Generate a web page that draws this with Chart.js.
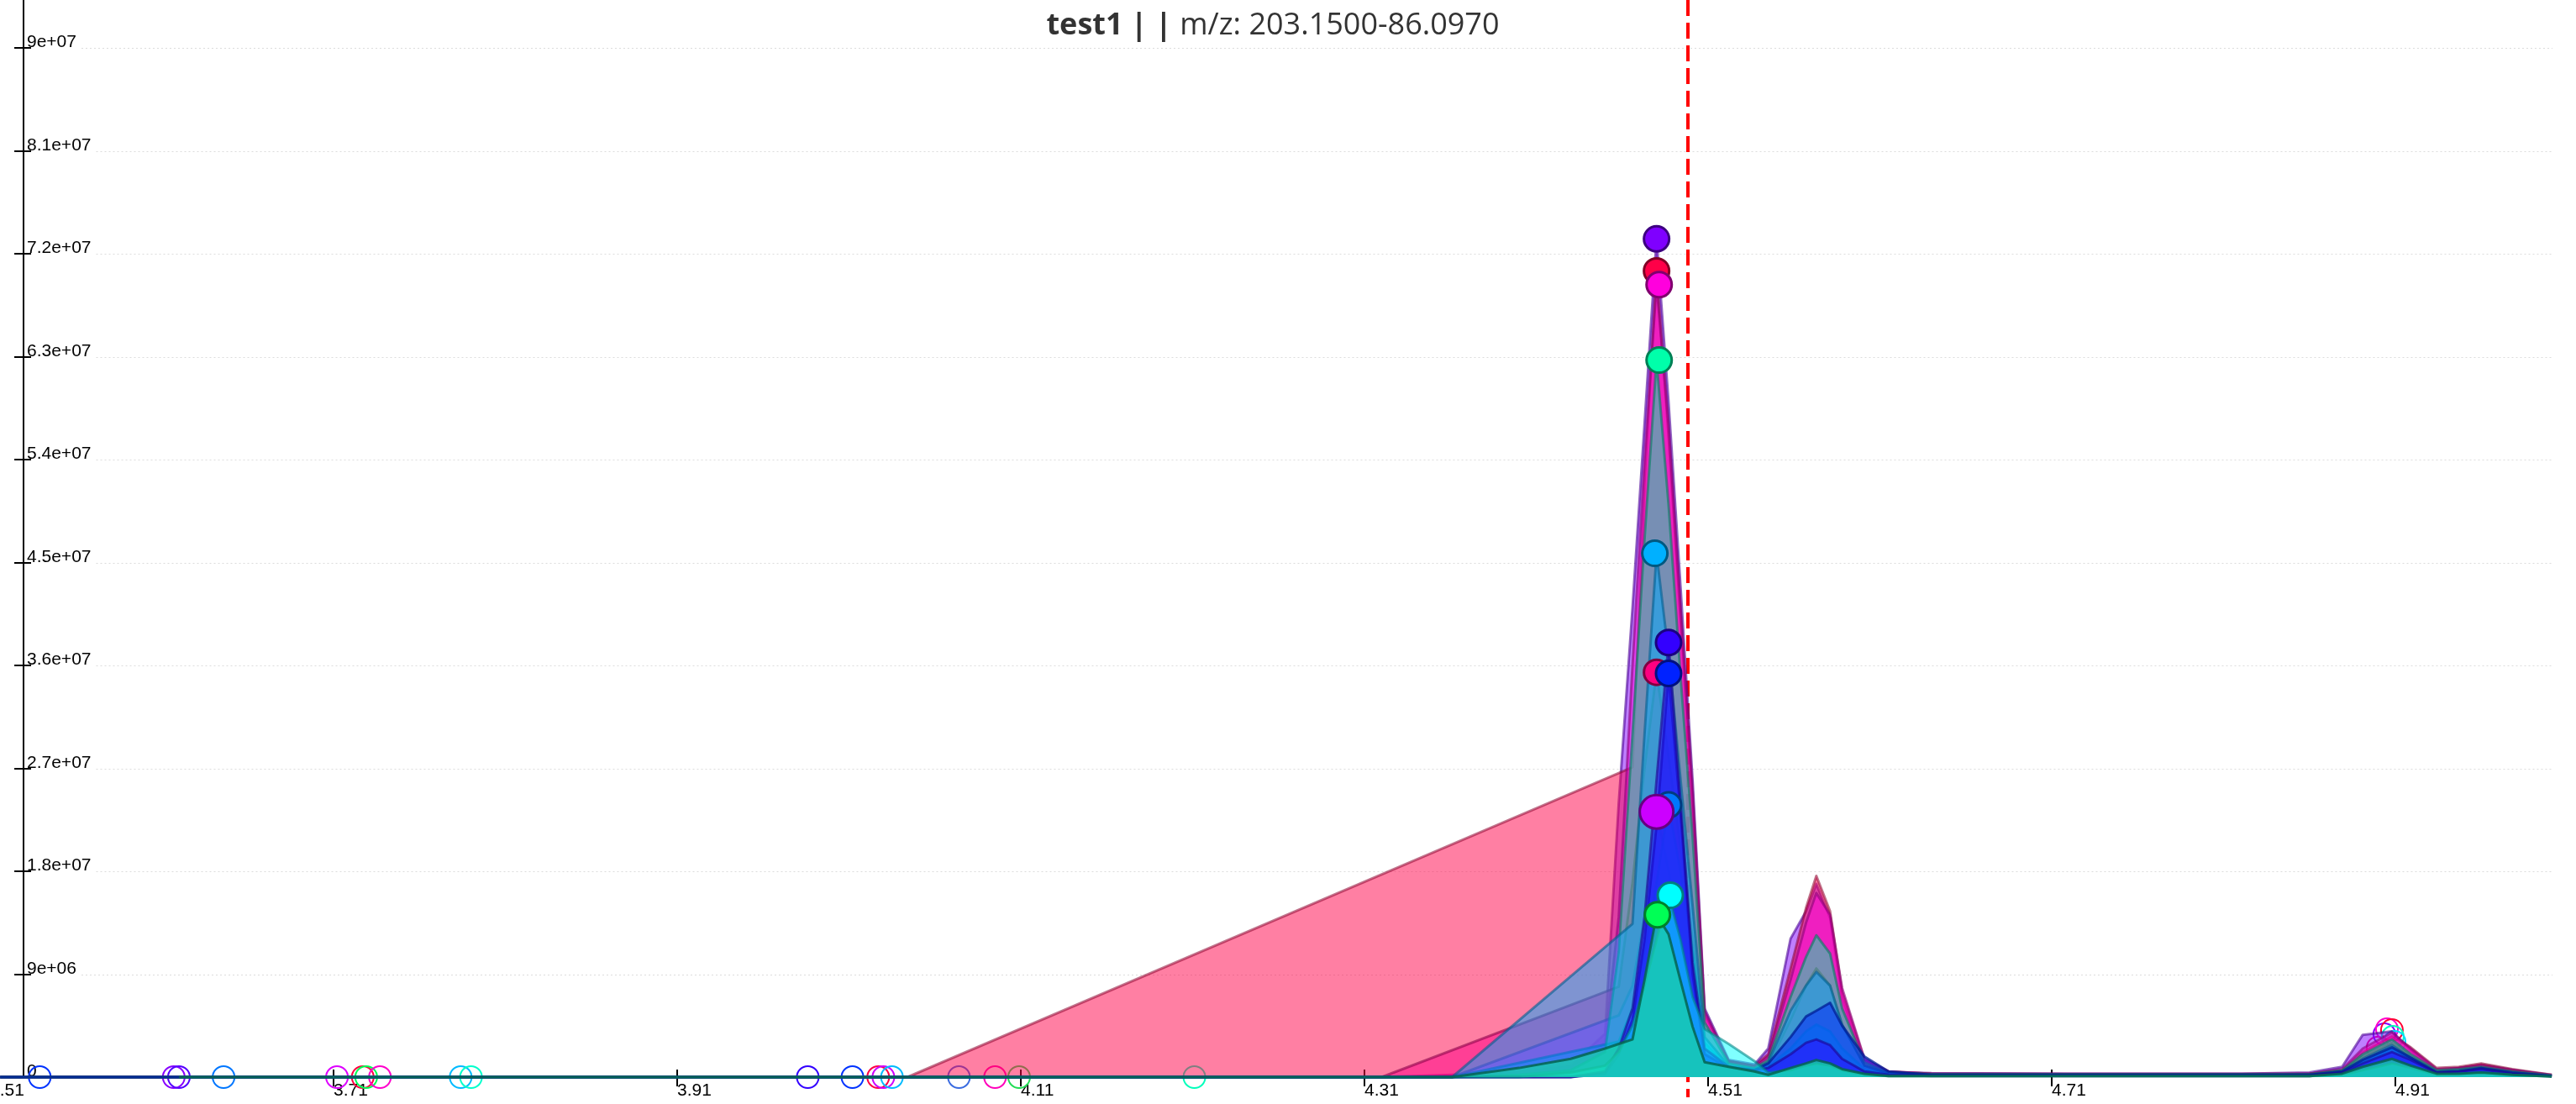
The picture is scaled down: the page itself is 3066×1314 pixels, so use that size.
<!DOCTYPE html>
<html>
<head>
<meta charset="utf-8">
<title>test1 | | m/z: 203.1500-86.0970</title>
<script src="https://cdn.jsdelivr.net/npm/chart.js@4.4.1/dist/chart.umd.min.js"></script>
<style>
  html, body { margin: 0; padding: 0; background: #fff; overflow: hidden; }
  canvas { display: block; }
</style>
</head>
<body>
<canvas id="eic" width="3066" height="1314"></canvas>
<script>
// EIC overlay - one filled trace per sample, apex markers on top

// retention times shared by every trace (min)
const rt = [3.516, 3.62, 3.75, 3.90, 4.00, 4.044, 4.15, 4.32, 4.361, 4.40,
            4.43, 4.45, 4.458, 4.466, 4.473, 4.480, 4.487, 4.494, 4.501, 4.508,
            4.522, 4.537, 4.545, 4.558, 4.567, 4.573, 4.581, 4.588, 4.601, 4.615,
            4.64, 4.72, 4.82, 4.86, 4.879, 4.891, 4.908, 4.919, 4.934, 4.947,
            4.960, 4.978, 5.001];

// intensities per sample (null = no scan recorded)
const purpleInt = [0, 0, 0, 0, 0, 0, 0, 0, 0.2e6, 0.5e6,
  1.0e6, 3.8e6, 24e6, 41e6, 57.1e6, 73.3e6, 59.0e6, 42.8e6, 25.9e6, 6.0e6,
  1.5e6, 1.1e6, 2.5e6, 12.1e6, 14.5e6, 16.9e6, 13.9e6, 7.0e6, 1.1e6, 0.45e6,
  0.35e6, 0.3e6, 0.3e6, 0.4e6, 0.9e6, 3.7e6, 4.0e6, 2.35e6, 0.5e6, 0.8e6,
  1.1e6, 0.65e6, 0.15e6];
const crimsonInt = [0, 0, 0, 0, 0, 0, null, null, null, null,
  null, null, null, 27.1e6, 52e6, 70.5e6, 56e6, 40e6, 24e6, 5.5e6,
  1.4e6, 1.0e6, 2.0e6, 9.5e6, 14.8e6, 17.6e6, 14.5e6, 7.5e6, 1.5e6, 0.5e6,
  0.3e6, 0.25e6, 0.25e6, 0.3e6, 0.6e6, 2.2e6, 3.6e6, 2.6e6, 0.8e6, 0.9e6,
  1.2e6, 0.7e6, 0.2e6];
const magentaInt = [0, 0, 0, 0, 0, 0, 0, 0, 0.1e6, 0.4e6,
  0.9e6, 3.0e6, 14e6, 36e6, 54e6, 69.3e6, 57e6, 41e6, 25e6, 5.8e6,
  1.3e6, 0.9e6, 1.8e6, 8.5e6, 13.5e6, 16.1e6, 14.2e6, 7.8e6, 1.6e6, 0.5e6,
  0.3e6, 0.3e6, 0.3e6, 0.3e6, 0.7e6, 2.5e6, 3.9e6, 2.5e6, 0.7e6, 0.8e6,
  1.0e6, 0.6e6, 0.2e6];
const roseInt = [0, 0, 0, 0, 0, 0, 0, 0, null, null,
  null, null, 7.9e6, 17e6, 27e6, 35.4e6, 28e6, 20e6, 12e6, 3.0e6,
  0.8e6, 0.5e6, 1.0e6, 5.0e6, 8.0e6, 9.5e6, 8.0e6, 4.5e6, 1.0e6, 0.3e6,
  0.2e6, 0.2e6, 0.2e6, 0.2e6, 0.5e6, 1.8e6, 3.0e6, 1.8e6, 0.5e6, 0.6e6,
  0.8e6, 0.4e6, 0.1e6];
const violetInt = [0, 0, 0, 0, 0, 0, 0, 0, 0, null,
  null, null, 5.4e6, 8e6, 14e6, 23.2e6, 18e6, 12e6, 6e6, 1.5e6,
  0.4e6, 0.3e6, 0.5e6, 1.8e6, 2.8e6, 3.3e6, 2.7e6, 1.5e6, 0.4e6, 0.2e6,
  0.1e6, 0.1e6, 0.1e6, 0.1e6, 0.3e6, 1.0e6, 1.8e6, 1.2e6, 0.3e6, 0.4e6,
  0.5e6, 0.2e6, 0.1e6];
const skyBlueInt = [0, 0, 0, 0, 0, 0, 0, 0, 0, null,
  null, null, 3.1e6, 6e6, 11e6, 17e6, 23.8e6, 18e6, 11e6, 3.0e6,
  0.8e6, 0.5e6, 0.9e6, 2.5e6, 4.0e6, 4.6e6, 4.0e6, 2.5e6, 0.7e6, 0.2e6,
  0.15e6, 0.15e6, 0.15e6, 0.15e6, 0.4e6, 1.3e6, 2.5e6, 1.6e6, 0.4e6, 0.5e6,
  0.7e6, 0.3e6, 0.1e6];
const springInt = [0, 0, 0, 0, 0, 0, 0, 0, 0, 0.2e6,
  0.6e6, 2.2e6, 11e6, 30e6, 47e6, 62.7e6, 50e6, 35e6, 21e6, 4.8e6,
  1.2e6, 0.8e6, 1.5e6, 7.0e6, 10.5e6, 12.4e6, 10.8e6, 6.0e6, 1.3e6, 0.4e6,
  0.25e6, 0.25e6, 0.25e6, 0.25e6, 0.6e6, 2.0e6, 3.3e6, 2.0e6, 0.6e6, 0.7e6,
  0.9e6, 0.5e6, 0.15e6];
const azureInt = [0, 0, 0, 0, 0, 0, 0, 0, 0, null,
  null, null, null, 13.4e6, 30e6, 45.8e6, 37e6, 26e6, 15e6, 3.5e6,
  1.0e6, 0.7e6, 1.3e6, 5.8e6, 8.0e6, 9.2e6, 8.0e6, 4.6e6, 1.0e6, 0.3e6,
  0.2e6, 0.2e6, 0.2e6, 0.2e6, 0.5e6, 1.6e6, 2.8e6, 1.7e6, 0.5e6, 0.6e6,
  0.8e6, 0.4e6, 0.1e6];
const blueInt = [0, 0, 0, 0, 0, 0, 0, 0, 0, 0,
  0, 0.3e6, 2.0e6, 5.0e6, 12e6, 22e6, 35.3e6, 23e6, 9.0e6, 2.0e6,
  0.8e6, 0.6e6, 1.2e6, 3.5e6, 5.3e6, 5.8e6, 6.5e6, 4.5e6, 1.8e6, 0.5e6,
  0.2e6, 0.2e6, 0.2e6, 0.2e6, 0.5e6, 1.5e6, 2.6e6, 1.7e6, 0.4e6, 0.5e6,
  0.8e6, 0.4e6, 0.1e6];
const indigoInt = [null, 0, 0, 0, 0, 0, 0, 0, 0, 0,
  0, 0.5e6, 2.5e6, 6.0e6, 14e6, 26e6, 38.0e6, 24e6, 10e6, 2.5e6,
  0.9e6, 0.6e6, 0.8e6, 2.0e6, 3.0e6, 3.3e6, 2.8e6, 1.6e6, 0.5e6, 0.2e6,
  0.15e6, 0.15e6, 0.15e6, 0.15e6, 0.4e6, 1.2e6, 2.2e6, 1.5e6, 0.4e6, 0.5e6,
  0.7e6, 0.3e6, 0.1e6];
const cyanInt = [null, 0, 0, 0, 0, 0, 0, 0, 0, 0,
  0.4e6, 1.0e6, 2.2e6, 4.5e6, 8e6, 12e6, 15.9e6, 12e6, 7e6, 4.2e6,
  2.9e6, 1.4e6, 0.4e6, 0.6e6, 1.0e6, 1.2e6, 1.0e6, 0.6e6, 0.2e6, 0.1e6,
  0.1e6, 0.1e6, 0.1e6, 0.1e6, 0.2e6, 0.6e6, 1.2e6, 0.8e6, 0.2e6, 0.3e6,
  0.4e6, 0.2e6, 0.05e6];
const greenInt = [null, 0, 0, 0, 0, 0, 0, 0, 0, 0.8e6,
  1.6e6, 2.5e6, 2.9e6, 3.3e6, 8.5e6, 14.2e6, 12.5e6, 8.4e6, 4.4e6, 1.3e6,
  0.9e6, 0.5e6, 0.2e6, 0.8e6, 1.2e6, 1.5e6, 1.2e6, 0.7e6, 0.3e6, 0.1e6,
  0.1e6, 0.1e6, 0.1e6, 0.1e6, 0.3e6, 0.9e6, 1.6e6, 1.0e6, 0.3e6, 0.3e6,
  0.4e6, 0.2e6, 0.05e6];

// detected apex of each sample (filled markers)
const apexRt  = [4.480, 4.480, 4.4815, 4.4815, 4.479, 4.487, 4.480, 4.487, 4.487, 4.480, 4.488, 4.4805];
const apexInt = [73.3e6, 70.5e6, 69.3e6, 62.7e6, 45.8e6, 38.0e6, 35.4e6, 35.3e6, 23.8e6, 23.2e6, 15.9e6, 14.2e6];

// peaks picked elsewhere (open markers)
const openRt  = [3.539, 3.617, 3.620, 3.646, 3.712, 3.727, 3.729, 3.737, 3.784, 3.790,
                 3.986, 4.012, 4.027, 4.030, 4.035, 4.074, 4.095, 4.109, 4.211,
                 4.8997, 4.9036, 4.9051, 4.9080, 4.9085, 4.9095];
const openInt = [0, 0, 0, 0, 0, 0, 0, 0, 0, 0,
                 0, 0, 0, 0, 0, 0, 0, 0, 0,
                 2.57e6, 3.75e6, 4.19e6, 4.11e6, 3.53e6, 3.09e6];

// axis ticks
const yTickValues = [0, 9e6, 18e6, 27e6, 36e6, 45e6, 54e6, 63e6, 72e6, 81e6, 90e6];
const xTickValues = [3.51, 3.71, 3.91, 4.11, 4.31, 4.51, 4.71, 4.91];

const selectedRt = 4.4982;
const titleBold = 'test1 | |';
const titleRest = ' m/z: 203.1500-86.0970';

// drawing order: first entry is painted first (bottom)
const traces = [
  { label: 'purple',  values: purpleInt,  fill: 'rgba(127,0,255,0.5)', line: 'rgba(75,0,150,0.6)' },
  { label: 'crimson', values: crimsonInt, fill: 'rgba(255,0,72,0.5)',  line: 'rgba(140,0,45,0.55)' },
  { label: 'magenta', values: magentaInt, fill: 'rgba(255,0,221,0.5)', line: 'rgba(140,0,120,0.6)' },
  { label: 'rose',    values: roseInt,    fill: 'rgba(255,0,136,0.5)', line: 'rgba(140,0,75,0.6)' },
  { label: 'violet',  values: violetInt,  fill: 'rgba(204,0,255,0.5)', line: 'rgba(105,0,135,0.6)' },
  { label: 'sky',     values: skyBlueInt, fill: 'rgba(0,119,255,0.5)', line: 'rgba(0,65,145,0.6)' },
  { label: 'spring',  values: springInt,  fill: 'rgba(0,255,170,0.5)', line: 'rgba(0,130,95,0.6)' },
  { label: 'azure',   values: azureInt,   fill: 'rgba(0,170,255,0.5)', line: 'rgba(0,95,145,0.6)' },
  { label: 'blue',    values: blueInt,    fill: 'rgba(0,34,255,0.5)',  line: 'rgba(0,30,150,0.75)' },
  { label: 'indigo',  values: indigoInt,  fill: 'rgba(51,0,255,0.5)',  line: 'rgba(30,0,145,0.6)' },
  { label: 'cyan',    values: cyanInt,    fill: 'rgba(0,255,255,0.5)', line: 'rgba(0,135,135,0.6)' },
  { label: 'green',   values: greenInt,   fill: 'rgba(25,212,165,0.72)', line: 'rgba(5,100,80,0.85)' }
];

const apexFill = ['#7f00ff', '#ff0048', '#ff00dd', '#00ffaa', '#00b0ff', '#3300ff',
                  '#ff0080', '#0022ff', '#0077ff', '#cc00ff', '#00ffff', '#00ff55'];
const apexEdge = ['#3d0080', '#800024', '#80006e', '#008055', '#005880', '#1a0080',
                  '#800040', '#001180', '#003b80', '#660080', '#008080', '#00802a'];
const apexSize = [15, 15, 15, 15, 15, 15, 15, 15, 15, 20, 15, 15];
const openEdge = ['#0033ff', '#8800ff', '#5500ff', '#0077ff', '#dd00ff', '#ff0040', '#00ff55', '#ff00cc',
                  '#00bbff', '#00ffcc', '#3300ff', '#0033ff', '#ff0044', '#cc00ff', '#00bbff', '#3a6be0',
                  '#ff00bb', '#22dd55', '#00ffbb', '#ff0066', '#8800ff', '#ff00cc', '#ff0033', '#00ffbb', '#00ddff'];

const AXIS_FONT = '21px "Liberation Sans", Arial, sans-serif';

function sci(v) {
  if (v === 0) return '0';
  const parts = v.toExponential().split('e');
  const exp = parts[1];
  return parts[0] + 'e' + exp[0] + exp.slice(1).padStart(2, '0');
}

// axes drawn by hand so the y axis can sit inside the plot like the original
const axesPlugin = {
  id: 'eicAxes',
  beforeDatasetsDraw(chart) {
    const { ctx, chartArea: area } = chart;
    const xs = chart.scales.x, ys = chart.scales.y;
    ctx.save();
    ctx.font = AXIS_FONT;

    // dotted grid
    ctx.strokeStyle = '#dcdcdc';
    ctx.lineWidth = 1;
    ctx.setLineDash([2, 3]);
    yTickValues.forEach(function(v) {
      if (v === 0) return;
      const py = Math.round(ys.getPixelForValue(v)) + 0.5;
      const w = ctx.measureText(sci(v)).width;
      ctx.beginPath();
      ctx.moveTo(area.left + 10 + w, py);
      ctx.lineTo(area.right, py);
      ctx.stroke();
    });
    ctx.setLineDash([]);

    // y axis
    ctx.strokeStyle = '#000';
    ctx.fillStyle = '#000';
    ctx.lineWidth = 2;
    ctx.beginPath();
    ctx.moveTo(area.left, 0);
    ctx.lineTo(area.left, area.bottom);
    ctx.stroke();
    ctx.textAlign = 'left';
    ctx.textBaseline = 'alphabetic';
    yTickValues.forEach(function(v) {
      const py = Math.round(ys.getPixelForValue(v));
      ctx.beginPath();
      ctx.moveTo(area.left - 11, py);
      ctx.lineTo(area.left + 9, py);
      ctx.stroke();
      ctx.fillText(sci(v), area.left + 4, py - 1);
    });

    // x axis ticks
    ctx.textBaseline = 'top';
    xTickValues.forEach(function(v) {
      const px = Math.round(xs.getPixelForValue(v));
      ctx.beginPath();
      ctx.moveTo(px, area.bottom - 9);
      ctx.lineTo(px, area.bottom + 11);
      ctx.stroke();
      ctx.fillText(v.toFixed(2), px, area.bottom + 6);
    });

    // selected retention time
    const sx = Math.round(xs.getPixelForValue(selectedRt));
    ctx.strokeStyle = '#ff0000';
    ctx.lineWidth = 4;
    ctx.setLineDash([19, 8]);
    ctx.beginPath();
    ctx.moveTo(sx, 0);
    ctx.lineTo(sx, area.bottom + 24);
    ctx.stroke();
    ctx.restore();
  }
};

const titlePlugin = {
  id: 'eicTitle',
  afterDraw(chart) {
    const ctx = chart.ctx;
    const boldFont = '700 36px "Open Sans", "Noto Sans", sans-serif';
    const plainFont = '400 36px "Open Sans", "Noto Sans", sans-serif';
    ctx.save();
    ctx.font = boldFont;
    const w1 = ctx.measureText(titleBold).width;
    ctx.font = plainFont;
    const w2 = ctx.measureText(titleRest).width;
    const x0 = 1515 - (w1 + w2) / 2;
    ctx.fillStyle = '#333';
    ctx.textAlign = 'left';
    ctx.textBaseline = 'alphabetic';
    ctx.font = boldFont;
    ctx.fillText(titleBold, x0, 41);
    ctx.font = plainFont;
    ctx.fillText(titleRest, x0 + w1, 41);
    ctx.restore();
  }
};

function toPoints(xs, ys) {
  return xs.map(function(t, i) { return { x: t, y: ys[i] }; });
}

const datasets = traces.map(function(t, i) {
  return {
    label: t.label,
    data: toPoints(rt, t.values),
    backgroundColor: t.fill,
    borderColor: t.line,
    borderWidth: 3,
    borderJoinStyle: 'round',
    fill: 'origin',
    pointRadius: 0,
    spanGaps: true,
    tension: 0,
    clip: false,
    order: 100 - i
  };
});

// open markers sit under the traces
datasets.push({
  label: 'picked',
  data: toPoints(openRt, openInt),
  showLine: false,
  pointRadius: 13,
  pointBorderWidth: 2,
  pointBackgroundColor: 'rgba(0,0,0,0)',
  pointBorderColor: openEdge,
  clip: false,
  order: 200
});

// apex markers on top of everything
datasets.push({
  label: 'apex',
  data: toPoints(apexRt, apexInt),
  showLine: false,
  pointRadius: apexSize,
  pointBorderWidth: 3,
  pointBackgroundColor: apexFill,
  pointBorderColor: apexEdge,
  clip: false,
  order: 0
});

new Chart(document.getElementById('eic'), {
  type: 'line',
  data: { datasets: datasets },
  options: {
    responsive: false,
    animation: false,
    events: [],
    layout: { autoPadding: false, padding: { left: 28, right: 28, top: 0, bottom: 32 } },
    scales: {
      x: { type: 'linear', min: 3.52956, max: 5.00144, display: false },
      y: { type: 'linear', min: 0, max: 9.4188e7, display: false }
    },
    plugins: {
      legend: { display: false },
      tooltip: { enabled: false },
      title: { display: false }
    }
  },
  plugins: [axesPlugin, titlePlugin]
});
</script>
</body>
</html>
